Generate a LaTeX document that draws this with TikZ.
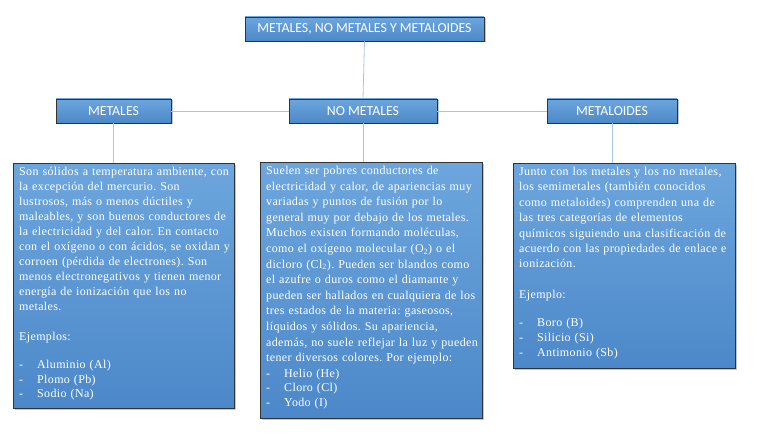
\documentclass[tikz,border=0pt]{standalone}
\usepackage{fontspec}
\setmainfont{Liberation Serif}
\newfontfamily\headfont{Carlito}
\usetikzlibrary{shadows}
\definecolor{boxtop}{HTML}{6DA6DD}
\definecolor{boxbot}{HTML}{4C88C9}
\definecolor{linkblue}{HTML}{A8C5E6}
\newcommand{\guion}{\makebox[18pt][l]{-}}
\frenchspacing

\begin{document}
\begin{tikzpicture}
  [x=1pt,y=-1pt,
   box/.style={rectangle,draw=black!80,line width=0.9pt,top color=boxtop,bottom color=boxbot,
     drop shadow={opacity=0.45,shadow xshift=1.5pt,shadow yshift=-1.5pt},inner sep=0pt},
   head/.style={box,minimum height=24pt,text=white,font=\headfont\fontsize{13.8}{15}\selectfont},
   txt/.style={anchor=north west,inner sep=0pt,align=left,text=white},
   link/.style={draw=linkblue,line width=0.8pt}]

  \useasboundingbox (0,0) rectangle (768,433);

  % titulo y las tres categorias
  \node[head,minimum width=239pt] (t) at (364.5,29) {METALES, NO METALES Y METALOIDES};
  \node[head,minimum width=115pt] (m) at (113.5,111) {METALES};
  \node[head,minimum width=148pt] (n) at (363,111) {NO METALES};
  \node[head,minimum width=130pt] (s) at (612,111) {METALOIDES};

  % cajas de texto
  \node[box,anchor=north west,minimum width=221pt,minimum height=245pt] (mb) at (13,163) {};
  \node[box,anchor=north west,minimum width=222pt,minimum height=256pt] (nb) at (260,162) {};
  \node[box,anchor=north west,minimum width=222pt,minimum height=205pt] (sb) at (513,163) {};

  \node[txt,text width=215pt,font=\fontsize{12}{15}\selectfont\addfontfeature{LetterSpace=3}]
    (mt) at ([xshift=6pt,yshift=-4pt]mb.north west)
    {Son sólidos a temperatura ambiente, con\\
     la excepción del mercurio. Son\\
     lustrosos, más o menos dúctiles y\\
     maleables, y son buenos conductores de\\
     la electricidad y del calor. En contacto\\
     con el oxígeno o con ácidos, se oxidan y\\
     corroen (pérdida de electrones). Son\\
     menos electronegativos y tienen menor\\
     energía de ionización que los no\\
     metales.\\[15pt]
     Ejemplos:\\[13pt]
     \guion Aluminio (Al)\\[-0.5pt]
     \guion Plomo (Pb)\\[-0.5pt]
     \guion Sodio (Na)};

  \node[txt,text width=215pt,font=\fontsize{12}{15.6}\selectfont\addfontfeature{LetterSpace=3}]
    (nt) at ([xshift=6pt,yshift=-4pt]nb.north west)
    {Suelen ser pobres conductores de\\
     electricidad y calor, de apariencias muy\\
     variadas y puntos de fusión por lo\\
     general muy por debajo de los metales.\\
     Muchos existen formando moléculas,\\
     como el oxígeno molecular (O\textsubscript{2}) o el\\
     dicloro (Cl\textsubscript{2}). Pueden ser blandos como\\
     el azufre o duros como el diamante y\\
     pueden ser hallados en cualquiera de los\\
     tres estados de la materia: gaseosos,\\
     líquidos y sólidos. Su apariencia,\\
     además, no suele reflejar la luz y pueden\\
     tener diversos colores. Por ejemplo:\\
     \guion Helio (He)\\[-1pt]
     \guion Cloro (Cl)\\[-1pt]
     \guion Yodo (I)};

  \node[txt,text width=215pt,font=\fontsize{12}{15.4}\selectfont\addfontfeature{LetterSpace=3}]
    (st) at ([xshift=6pt,yshift=-4pt]sb.north west)
    {Junto con los metales y los no metales,\\
     los semimetales (también conocidos\\
     como metaloides) comprenden una de\\
     las tres categorías de elementos\\
     químicos siguiendo una clasificación de\\
     acuerdo con las propiedades de enlace e\\
     ionización.\\[15pt]
     Ejemplo:\\[13pt]
     \guion Boro (B)\\[-0.5pt]
     \guion Silicio (Si)\\[-0.5pt]
     \guion Antimonio (Sb)};

  % conectores
  \draw[link] (t.south) -- (n.north);
  \draw[link] (m.east) -- (n.west);
  \draw[link] (n.east) -- (s.west);
  \draw[link] (m.south) -- (m.south |- mb.north);
  \draw[link] (n.south) -- (n.south |- nb.north);
  \draw[link] (s.south) -- (s.south |- sb.north);

\end{tikzpicture}
\end{document}
